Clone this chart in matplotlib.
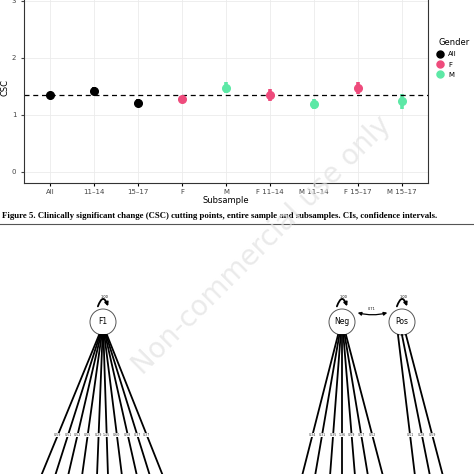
import matplotlib
matplotlib.use("Agg")
import matplotlib.pyplot as plt
from matplotlib.patches import Circle, FancyArrowPatch
from matplotlib.lines import Line2D

subsamples = ["All", "11\u201314", "15\u201317", "F", "M", "F 11\u201314", "M 11\u201314", "F 15\u201317", "M 15\u201317"]
groups = ["All", "All", "All", "F", "M", "F", "M", "F", "M"]
csc = [1.34, 1.42, 1.20, 1.27, 1.47, 1.34, 1.18, 1.47, 1.23]
ci_half = [0.05, 0.07, 0.07, 0.06, 0.10, 0.10, 0.09, 0.11, 0.13]
reference_csc = 1.34
colors = {"All": "#000000", "F": "#EE4B7C", "M": "#5DE8A6"}

f1_loadings = ["0.59", "0.51", "0.52", "0.55", "0.29", "1.45", "0.60", "0.58", "0.37", "0.37"]
neg_loadings = ["0.34", "0.31", "0.35", "1.36", "0.59", "0.57", "0.52"]
pos_loadings = ["0.51", "0.28", "0.59"]
factor_cov = "0.71"

W = H = 474
fig = plt.figure(figsize=(4.74, 4.74), dpi=100)
fig.patch.set_facecolor("white")

def fx(x): return x / W
def fy(y): return 1 - y / H

ax = fig.add_axes([fx(24), fy(183), fx(428) - fx(24), fy(-8) - fy(183)])
ax.set_facecolor("white")
for i, (v, e, g) in enumerate(zip(csc, ci_half, groups)):
    ax.errorbar(i, v, yerr=e, fmt="o", color=colors[g], ms=5.5, elinewidth=2.6, capsize=0)
ax.axhline(reference_csc, color="black", ls=(0, (4, 3)), lw=0.9)
ax.set_xlim(-0.6, 8.6)
ax.set_ylim(-0.2, 3.15)
ax.set_yticks([0, 1, 2, 3])
ax.set_xticks(range(len(subsamples)))
ax.set_xticklabels(subsamples, fontsize=5, color="#444444")
ax.tick_params(axis="y", labelsize=5, colors="#444444", length=2)
ax.tick_params(axis="x", length=2, pad=2)
ax.grid(True, color="#ebebeb", lw=0.6)
ax.set_axisbelow(True)
for s in ax.spines.values():
    s.set_color("#333333"); s.set_linewidth(0.8)
ax.set_xlabel("Subsample", fontsize=6, labelpad=1)
ax.set_ylabel("CSC", fontsize=6, labelpad=2)

handles = [Line2D([0], [0], marker="o", color=colors[k], ls="-", lw=2.4, ms=5) for k in ["All", "F", "M"]]
fig.legend(handles, ["All", "F", "M"], title="Gender", loc="upper left",
           bbox_to_anchor=(fx(432), fy(32)), frameon=False, fontsize=5, title_fontsize=6,
           handlelength=0.6, labelspacing=0.6, alignment="left")

fig.text(fx(2), fy(216), "Figure 5. Clinically significant change (CSC) cutting points, entire sample and subsamples. CIs, confidence intervals.",
         fontsize=6.3, fontweight="bold", family="Liberation Serif", va="center")
fig.add_artist(Line2D([0, 1], [fy(224), fy(224)], color="#555555", lw=0.8))

dax = fig.add_axes([0, 0, 1, fy(226)])
dax.set_xlim(0, W); dax.set_ylim(H, 226); dax.axis("off")

def factor(cx, cy, name, loads, bottom_xs):
    dax.add_patch(Circle((cx, cy), 13, fill=False, ec="#555555", lw=0.7))
    dax.text(cx, cy, name, ha="center", va="center", fontsize=5.5)
    dax.add_patch(FancyArrowPatch((cx - 6, cy - 13), (cx + 6, cy - 13), connectionstyle="arc3,rad=-1.6",
                                  arrowstyle="-|>", mutation_scale=5, lw=1.3, color="black"))
    dax.text(cx + 2, cy - 24, "1.00", fontsize=2.5, ha="center")
    n = len(loads)
    for j, (bx, lab) in enumerate(zip(bottom_xs, loads)):
        sx = cx - 4 + 8 * j / max(n - 1, 1)
        dax.plot([sx, bx], [cy + 13, 476], color="black", lw=1.3)
        t = (435 - (cy + 13)) / (476 - (cy + 13))
        dax.text(sx + t * (bx - sx), 435, lab, fontsize=2.3, ha="center", va="center", color="#333333",
                 bbox=dict(fc="white", ec="none", pad=0.1))

factor(103, 322, "F1", f1_loadings, [41, 55, 68, 82, 97, 108, 122, 137, 150, 163])
factor(342, 322, "Neg", neg_loadings, [302, 315, 330, 342, 355, 368, 383])
factor(402, 322, "Pos", pos_loadings, [415, 430, 443])
dax.add_patch(FancyArrowPatch((355, 312), (390, 312), connectionstyle="arc3,rad=0.15",
                              arrowstyle="<|-|>", mutation_scale=5, lw=0.9, color="black"))
dax.text(372, 310, factor_cov, fontsize=2.5, ha="center")

fig.text(fx(262), fy(245), "Non-commercial use only", rotation=45, fontsize=20, color="#e2e2e2",
         ha="center", va="center", alpha=0.7, zorder=10)

fig.savefig("out.png", dpi=100)
